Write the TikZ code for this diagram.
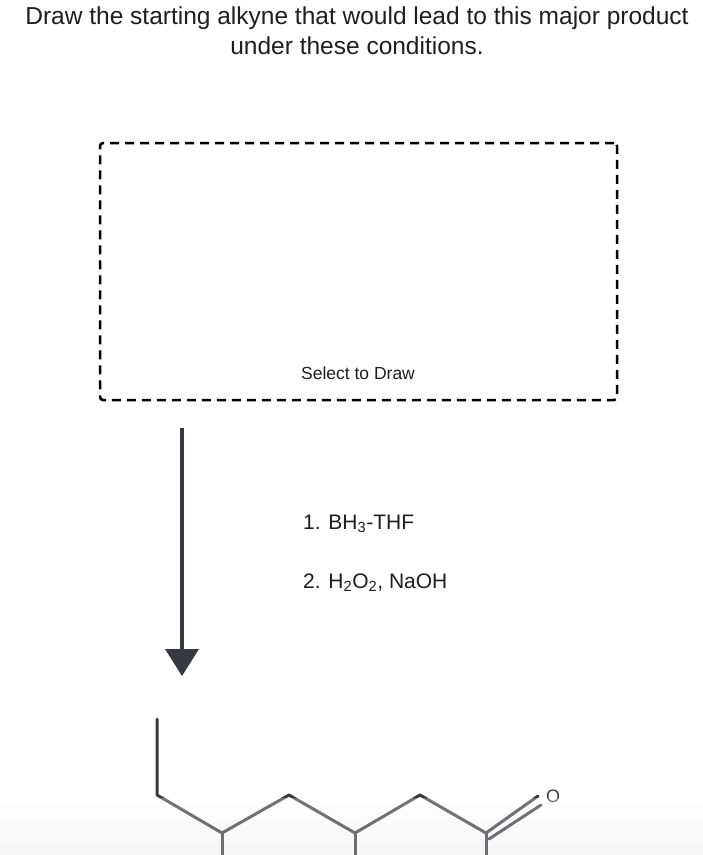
\documentclass[tikz,border=0pt]{standalone}
\usepackage{fontspec}
\setmainfont{Liberation Sans}
\usetikzlibrary{calc}
\definecolor{ink}{RGB}{52,58,64}
\definecolor{txt}{RGB}{30,30,30}
\definecolor{fadeg}{RGB}{225,225,225}
\begin{document}
\begin{tikzpicture}[x=1pt,y=-1pt,
  bond/.style={line width=3pt,draw=ink,line cap=round,line join=round},
  lbl/.style={inner sep=0pt,text=txt}]
\useasboundingbox (0,0) rectangle (703,855);
\node[lbl,font=\fontsize{24.5}{30}\selectfont,align=center] (title) at (357,31) {Draw the starting alkyne that would lead to this major product\\under these conditions.};
\node[draw,line width=2.5pt,dash pattern=on 9pt off 6pt,rounded corners=3pt,minimum width=517pt,minimum height=257pt] (box) at (358.5,271.5) {};
\node[lbl,font=\fontsize{17.5}{21}\selectfont] (sel) at (358,373) {Select to Draw};
\coordinate (a0) at (182,428);
\coordinate (a1) at (182,676);
\draw[line width=4pt,draw=ink] (a0) -- (182,655);
\fill[ink] (165,649) -- (199,649) -- (a1) -- cycle;
\node[lbl,font=\fontsize{21}{25}\selectfont,anchor=west] (r1) at (303,524) {1. BH\textsubscript{3}-THF};
\node[lbl,font=\fontsize{21}{25}\selectfont,anchor=west] (r2) at (303,583) {2. H\textsubscript{2}O\textsubscript{2}, NaOH};
\coordinate (c1) at (157,719);
\coordinate (c2) at (157,795);
\coordinate (c3) at (222,833);
\coordinate (c4) at (289,795);
\coordinate (c5) at (355,833);
\coordinate (c6) at (420,795);
\coordinate (c7) at (486,833);
\node[lbl,font=\fontsize{18}{21}\selectfont,text=ink] (O) at (553,796) {O};
\draw[bond] (c1) -- (c2) -- (c3) -- (c4) -- (c5) -- (c6) -- (c7);
\draw[bond] (c7) -- (538,796);
\draw[bond] ($(c7)+(3,6)$) -- (541,805);
\draw[bond] (c3) -- (222,855);
\draw[bond] (c5) -- (355,855);
\draw[bond] (c7) -- (486,855);
\shade[top color=white,bottom color=fadeg,opacity=0.3] (0,798) rectangle (703,855);
\end{tikzpicture}
\end{document}
